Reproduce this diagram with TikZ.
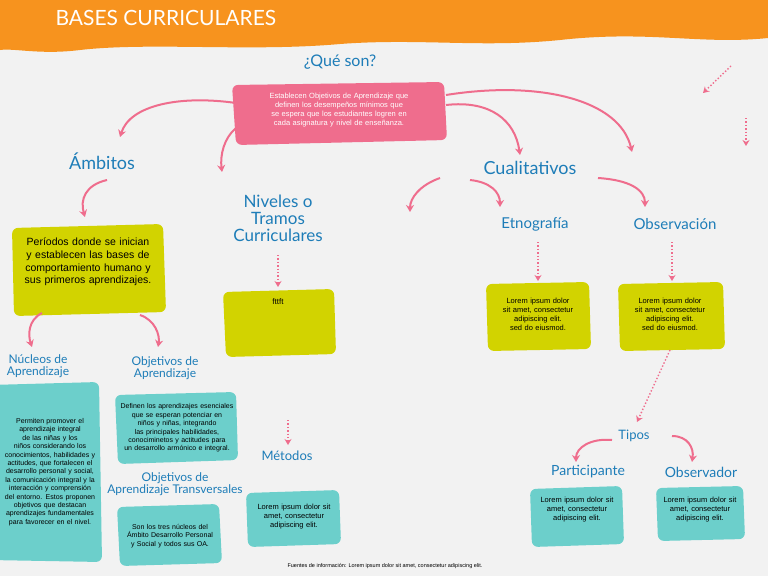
\documentclass[tikz,border=0pt]{standalone}
\usepackage{fontspec}
\setmainfont{Liberation Sans}
\newfontfamily\headf{Lato}
\usetikzlibrary{arrows.meta}
\definecolor{bg}{HTML}{F2F2F2}
\definecolor{orng}{HTML}{F7931E}
\definecolor{pnk}{HTML}{EF6D8D}
\definecolor{olv}{HTML}{D2D300}
\definecolor{tl}{HTML}{6CCFCB}
\definecolor{blu}{HTML}{1E7DB8}
\tikzset{
 hd/.style={text=blu,font=\headf\fontsize{#1}{#1}\selectfont,align=center,inner sep=1pt},
 blob/.style={fill=#1,rounded corners=6pt,inner sep=0pt},
 bt/.style={align=center,font={\fontsize{#1}{#1}\selectfont\baselineskip=1.2\baselineskip\hyphenpenalty=10000\exhyphenpenalty=10000},inner sep=0pt},
 arr/.style={pnk,line width=2pt,-{Stealth[length=7pt,width=8pt]}},
 darr/.style={pnk,line width=1.4pt,dotted,-{Stealth[length=6pt,width=7pt]}}
}
\begin{document}
\begin{tikzpicture}[x=1pt,y=-1pt]
\fill[bg] (0,0) rectangle (768,576);
\useasboundingbox (0,0) rectangle (768,576);
\fill[orng] (0,0) -- (768,0) -- (768,38) .. controls (700,45) and (650,30) .. (560,40) .. controls (480,48) and (420,38) .. (340,44) .. controls (250,52) and (150,42) .. (80,50) .. controls (40,55) and (15,48) .. (0,50) -- cycle;
\node[text=white,font=\headf\fontsize{21}{21}\selectfont,anchor=west] (title) at (52,18) {BASES CURRICULARES};
\node[hd=16] (que) at (340,62) {¿Qué son?};
\fill[blob=pnk] (232,85) -- (444,82) -- (447,140) -- (236,145) -- cycle;
\node[bt=7.5,text=white,text width=190pt] (def) at (339,110) {Establecen Objetivos de Aprendizaje que definen los desempeños mínimos que se espera que los estudiantes logren en cada asignatura y nivel de enseñanza.};
\node[hd=18] (amb) at (102,161) {Ámbitos};
\node[hd=17] (niv) at (278,218) {Niveles o\\Tramos\\Curriculares};
\node[hd=18] (cual) at (530,168) {Cualitativos};
\node[hd=15] (etn) at (535,224) {Etnografía};
\node[hd=15] (obs) at (675,224) {Observación};
% yellow
\fill[blob=olv] (12,228) -- (163,224) -- (166,312) -- (14,316) -- cycle;
\node[bt=10.5,text width=148pt] (per) at (88,262) {Períodos donde se inician y establecen las bases de comportamiento humano y sus primeros aprendizajes.};
\fill[blob=olv] (223,292) -- (334,289) -- (336,354) -- (226,357) -- cycle;
\node[bt=8,anchor=north] (ft) at (278,299) {fttft};
\fill[blob=olv] (486,284) -- (589,282) -- (591,349) -- (488,351) -- cycle;
\node[bt=7.5,text width=90pt] (y1) at (538,314) {Lorem ipsum dolor sit amet, consectetur adipiscing elit. sed do eiusmod.};
\fill[blob=olv] (618,284) -- (723,282) -- (725,349) -- (620,351) -- cycle;
\node[bt=7.5,text width=90pt] (y2) at (670,314) {Lorem ipsum dolor sit amet, consectetur adipiscing elit. sed do eiusmod.};
% teal section
\node[hd=12] (nuc) at (38,366) {Núcleos de\\Aprendizaje};
\node[hd=12] (oa) at (165,368) {Objetivos de\\Aprendizaje};
\fill[blob=tl] (-10,385) -- (99,382) -- (102,562) -- (-10,560) -- cycle;
\node[bt=7,text width=92pt] (nt) at (50,472) {Permiten promover el aprendizaje integral de las niñas y los niños considerando los conocimientos, habilidades y actitudes, que fortalecen el desarrollo personal y social, la comunicación integral y la interacción y comprensión del entorno. Estos proponen objetivos que destacan aprendizajes fundamentales para favorecer en el nivel.};
\fill[blob=tl] (115,395) -- (236,392) -- (238,460) -- (118,464) -- cycle;
\node[bt=7,text width=115pt] (oat) at (177,428) {Definen los aprendizajes esenciales que se esperan potenciar en niños y niñas, integrando las principales habilidades, conociminetos y actitudes para un desarrollo armónico e integral.};
\node[hd=12] (oatt) at (175,484) {Objetivos de\\Aprendizaje Transversales};
\fill[blob=tl] (117,507) -- (219,504) -- (222,563) -- (120,566) -- cycle;
\node[bt=7,text width=95pt] (oatx) at (170,536) {Son los tres núcleos del Ámbito Desarrollo Personal y Social y todos sus OA.};
\node[hd=13] (met) at (287,456) {Métodos};
\fill[blob=tl] (246,493) -- (339,490) -- (341,544) -- (248,547) -- cycle;
\node[bt=7.5,text width=82pt] (mt) at (294,517) {Lorem ipsum dolor sit amet, consectetur adipiscing elit.};
\node[hd=13] (tip) at (634,436) {Tipos};
\node[hd=14] (par) at (588,472) {Participante};
\node[hd=14] (obv) at (701,472) {Observador};
\fill[blob=tl] (530,489) -- (622,486) -- (624,544) -- (532,547) -- cycle;
\node[bt=7.5,text width=80pt] (pt) at (577,510) {Lorem ipsum dolor sit amet, consectetur adipiscing elit.};
\fill[blob=tl] (656,488) -- (743,486) -- (745,539) -- (658,541) -- cycle;
\node[bt=7.5,text width=80pt] (ot) at (700,510) {Lorem ipsum dolor sit amet, consectetur adipiscing elit.};
\node[font=\fontsize{5.5}{6}\selectfont] (foot) at (385,566) {Fuentes de información: Lorem ipsum dolor sit amet, consectetur adipiscing elit.};
% arrows
\coordinate (a1) at (236,103); \coordinate (b1) at (120,137);
\draw[arr] (a1) .. controls (180,95) and (130,105) .. (b1);
\coordinate (a2) at (236,128); \coordinate (b2) at (222,172);
\draw[arr] (a2) .. controls (224,138) and (220,155) .. (b2);
\coordinate (a3) at (446,105); \coordinate (b3) at (520,155);
\draw[arr] (a3) .. controls (490,100) and (515,120) .. (b3);
\coordinate (a4) at (446,95); \coordinate (b4) at (632,152);
\draw[arr] (a4) .. controls (540,80) and (620,100) .. (b4);
\coordinate (a5) at (440,178); \coordinate (b5) at (410,212);
\draw[arr] (a5) .. controls (420,185) and (410,198) .. (b5);
\coordinate (a6) at (470,180); \coordinate (b6) at (500,207);
\draw[arr] (a6) .. controls (490,182) and (500,192) .. (b6);
\coordinate (a7) at (598,178); \coordinate (b7) at (645,207);
\draw[arr] (a7) .. controls (630,180) and (645,190) .. (b7);
\coordinate (a8) at (107,180); \coordinate (b8) at (85,217);
\draw[arr] (a8) .. controls (85,185) and (80,200) .. (b8);
\coordinate (a9) at (42,313); \coordinate (b9) at (32,347);
\draw[arr] (a9) .. controls (28,320) and (28,335) .. (b9);
\coordinate (a10) at (140,315); \coordinate (b10) at (158,347);
\draw[arr] (a10) .. controls (155,320) and (160,335) .. (b10);
\coordinate (a11) at (612,440); \coordinate (b11) at (576,462);
\draw[arr] (a11) .. controls (590,438) and (576,448) .. (b11);
\coordinate (a12) at (672,436); \coordinate (b12) at (692,462);
\draw[arr] (a12) .. controls (688,436) and (694,448) .. (b12);
\coordinate (d1) at (731,66); \coordinate (e1) at (703,93);
\draw[darr] (d1) -- (e1);
\coordinate (d2) at (746,118); \coordinate (e2) at (746,146);
\draw[darr] (d2) -- (e2);
\coordinate (d3) at (278,255); \coordinate (e3) at (278,287);
\draw[darr] (d3) -- (e3);
\coordinate (d4) at (538,242); \coordinate (e4) at (538,281);
\draw[darr] (d4) -- (e4);
\coordinate (d5) at (672,242); \coordinate (e5) at (672,281);
\draw[darr] (d5) -- (e5);
\coordinate (d6) at (670,350); \coordinate (e6) at (637,422);
\draw[darr] (d6) -- (e6);
\coordinate (d7) at (288,420); \coordinate (e7) at (288,445);
\draw[darr] (d7) -- (e7);
\end{tikzpicture}
\end{document}
